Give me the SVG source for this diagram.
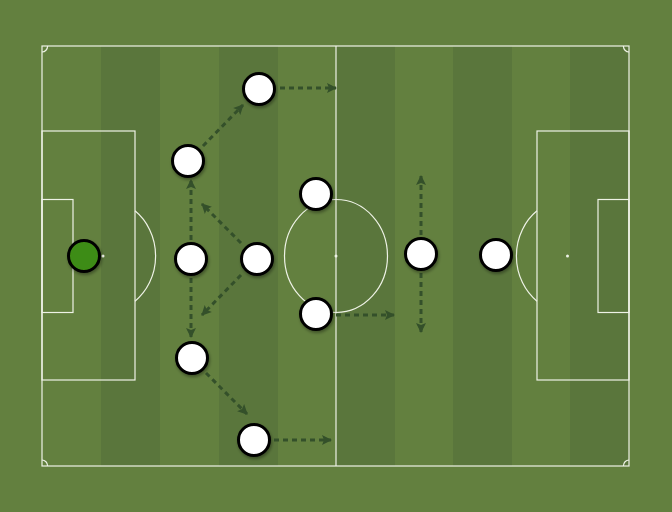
<svg xmlns="http://www.w3.org/2000/svg" width="672" height="512" viewBox="0 0 672 512">
<style>
.line{fill:none;stroke:#eef2e6;stroke-width:1.2}
.stripe{fill:#5a763c}
.arr{fill:none;stroke:#34502a;stroke-width:3;stroke-dasharray:5 4;marker-end:url(#ah)}
.pl{fill:#ffffff;stroke:#000000;stroke-width:3}
.gk{fill:#3e8c14;stroke:#000000;stroke-width:3}
</style>
<defs>
<marker id="ah" markerUnits="userSpaceOnUse" markerWidth="12" markerHeight="12" viewBox="0 0 12 12" refX="10" refY="6" orient="auto">
<path d="M1,1 L11,6 L1,11 L3,6 Z" fill="#34502a"/>
</marker>
<filter id="sh" x="-30%" y="-30%" width="160%" height="160%">
<feDropShadow dx="1" dy="2" stdDeviation="1.5" flood-color="#000" flood-opacity="0.35"/>
</filter>
</defs>
<rect width="672" height="512" fill="#63803f"/>
<g id="pitch">
<rect class="stripe" x="101" y="46" width="59" height="420"/>
<rect class="stripe" x="219" y="46" width="59" height="420"/>
<rect class="stripe" x="336" y="46" width="59" height="420"/>
<rect class="stripe" x="453" y="46" width="59" height="420"/>
<rect class="stripe" x="570" y="46" width="59" height="420"/>
<rect class="line" x="42" y="46" width="587" height="420"/>
<line class="line" x1="336" y1="46" x2="336" y2="466"/>
<ellipse class="line" cx="336" cy="256" rx="51.5" ry="56.5"/>
<circle cx="336" cy="256" r="1.5" fill="#eef2e6"/>
<rect class="line" x="42" y="131" width="93" height="249"/>
<rect class="line" x="42" y="199.5" width="31" height="113"/>
<circle cx="103" cy="256" r="1.5" fill="#eef2e6"/>
<path class="line" d="M135,210.8 A51.5,56.5 0 0 1 135,301.2"/>
<rect class="line" x="537" y="131" width="92" height="249"/>
<rect class="line" x="598" y="199.5" width="31" height="113"/>
<circle cx="567.5" cy="256" r="1.5" fill="#eef2e6"/>
<path class="line" d="M537,210.8 A51.5,56.5 0 0 0 537,301.2"/>
<path class="line" d="M42,52 A5.6,6 0 0 0 47.6,46"/>
<path class="line" d="M623.4,46 A5.6,6 0 0 0 629,52"/>
<path class="line" d="M42,460 A5.6,6 0 0 1 47.6,466"/>
<path class="line" d="M623.4,466 A5.6,6 0 0 1 629,460"/>
</g>
<g id="connectors">
<line class="arr" x1="280" y1="88" x2="336" y2="88"/>
<line class="arr" x1="203" y1="146" x2="243" y2="105"/>
<line class="arr" x1="191" y1="240" x2="191" y2="180"/>
<line class="arr" x1="191" y1="278" x2="191" y2="337"/>
<line class="arr" x1="241" y1="243" x2="202" y2="204"/>
<line class="arr" x1="241" y1="275" x2="202" y2="315"/>
<line class="arr" x1="206" y1="373" x2="247" y2="414"/>
<line class="arr" x1="274" y1="440" x2="331" y2="440"/>
<line class="arr" x1="336" y1="315" x2="394" y2="315"/>
<line class="arr" x1="421" y1="235" x2="421" y2="176"/>
<line class="arr" x1="421" y1="273" x2="421" y2="332"/>
</g>
<g id="gk" filter="url(#sh)"><circle class="gk" cx="84" cy="256" r="15.5"/></g>
<g id="p2" filter="url(#sh)"><circle class="pl" cx="259" cy="89" r="15.5"/></g>
<g id="p3" filter="url(#sh)"><circle class="pl" cx="188" cy="161" r="15.5"/></g>
<g id="p4" filter="url(#sh)"><circle class="pl" cx="191" cy="259" r="15.5"/></g>
<g id="p5" filter="url(#sh)"><circle class="pl" cx="257" cy="259" r="15.5"/></g>
<g id="p6" filter="url(#sh)"><circle class="pl" cx="192" cy="358" r="15.5"/></g>
<g id="p7" filter="url(#sh)"><circle class="pl" cx="254" cy="440" r="15.5"/></g>
<g id="p8" filter="url(#sh)"><circle class="pl" cx="316" cy="194" r="15.5"/></g>
<g id="p9" filter="url(#sh)"><circle class="pl" cx="316" cy="314" r="15.5"/></g>
<g id="p10" filter="url(#sh)"><circle class="pl" cx="421" cy="254" r="15.5"/></g>
<g id="p11" filter="url(#sh)"><circle class="pl" cx="496" cy="255" r="15.5"/></g>
</svg>
